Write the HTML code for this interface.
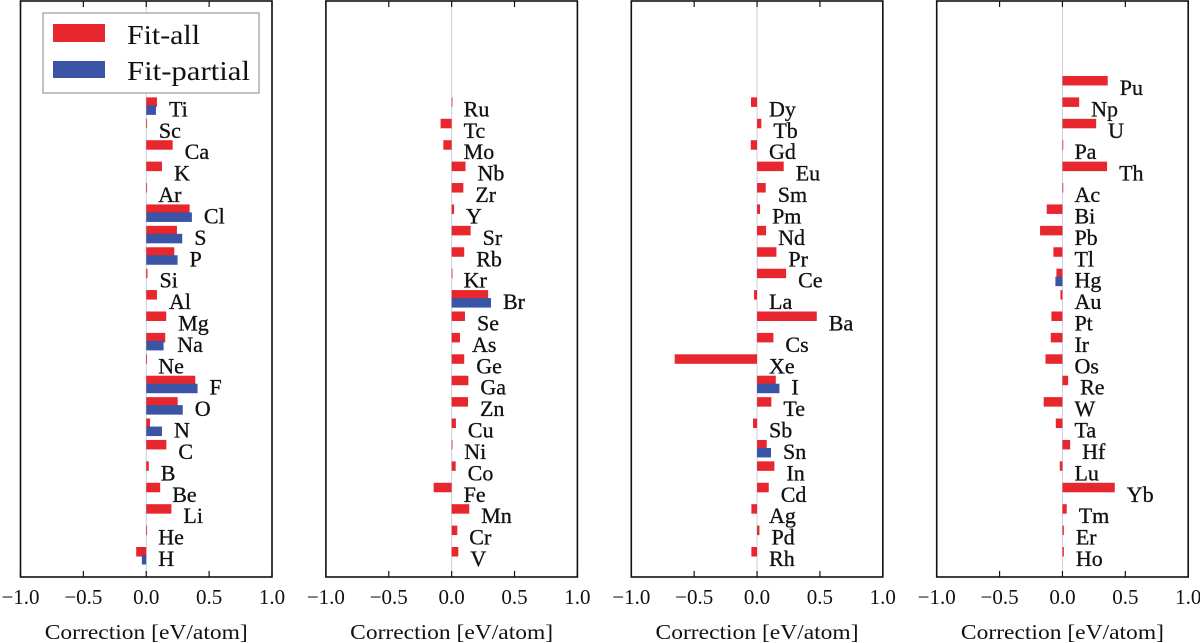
<!DOCTYPE html>
<html><head><meta charset="utf-8"><style>
html,body{margin:0;padding:0;background:#fff}
svg{display:block}
text{font-family:"Liberation Serif",serif;fill:#111}
</style></head><body>
<svg id="chart" width="1200" height="643" viewBox="0 0 1200 643" xmlns="http://www.w3.org/2000/svg"></svg>
<script>
const panel1Labels=["H","He","Li","Be","B","C","N","O","F","Ne","Na","Mg","Al","Si","P","S","Cl","Ar","K","Ca","Sc","Ti"];
const panel1All=[-0.08,0,0.2,0.111,0.02,0.16,0.03,0.25,0.39,0,0.151,0.159,0.085,0.01,0.223,0.244,0.345,0,0.125,0.21,0.005,0.085];
const panel1Partial=[-0.035,null,null,null,null,null,0.125,0.29,0.408,null,0.138,null,null,null,0.249,0.286,0.363,null,null,null,null,0.077];
const panel2Labels=["V","Cr","Mn","Fe","Co","Ni","Cu","Zn","Ga","Ge","As","Se","Br","Kr","Rb","Sr","Y","Zr","Nb","Mo","Tc","Ru"];
const panel2All=[0.053,0.045,0.14,-0.143,0.032,0.005,0.034,0.13,0.133,0.1,0.066,0.106,0.29,0,0.1,0.151,0.019,0.093,0.11,-0.066,-0.088,0];
const panel2Partial=[null,null,null,null,null,null,null,null,null,null,null,null,0.313,null,null,null,null,null,null,null,null,null];
const panel3Labels=["Rh","Pd","Ag","Cd","In","Sn","Sb","Te","I","Xe","Cs","Ba","La","Ce","Pr","Nd","Pm","Sm","Eu","Gd","Tb","Dy"];
const panel3All=[-0.045,0.019,-0.045,0.093,0.138,0.077,-0.032,0.114,0.149,-0.655,0.13,0.475,-0.024,0.231,0.154,0.072,0.024,0.069,0.212,-0.05,0.034,-0.048];
const panel3Partial=[null,null,null,null,null,0.111,null,null,0.178,null,null,null,null,null,null,null,null,null,null,null,null,null];
const panel4Labels=["Ho","Er","Tm","Yb","Lu","Hf","Ta","W","Re","Os","Ir","Pt","Au","Hg","Tl","Pb","Bi","Ac","Th","Pa","U","Np","Pu"];
const panel4All=[0.011,0.011,0.034,0.416,-0.021,0.061,-0.053,-0.149,0.045,-0.135,-0.093,-0.088,-0.016,-0.048,-0.072,-0.178,-0.125,0,0.355,0,0.268,0.133,0.36];
const panel4Partial=[null,null,null,null,null,null,null,null,null,null,null,null,null,-0.056,null,null,null,null,null,null,null,null,null];
const xTicks=[-1.0,-0.5,0.0,0.5,1.0];
const xTickLabels=["\u22121.0","\u22120.5","0.0","0.5","1.0"];

const NS="http://www.w3.org/2000/svg";
const svgEl=document.getElementById('chart');
function mk(tag,attrs,parent){const e=document.createElementNS(NS,tag);for(const k in attrs)e.setAttribute(k,attrs[k]);(parent||svgEl).appendChild(e);return e;}
const RED="#e8262d",BLUE="#3a54a6";
const panelW=251.5,axTop=1,axBottom=577,scale=panelW/2;
function yRow(i){return 555-21.41*i;}
const panels=[[panel1Labels,panel1All,panel1Partial],[panel2Labels,panel2All,panel2Partial],[panel3Labels,panel3All,panel3Partial],[panel4Labels,panel4All,panel4Partial]];
panels.forEach((p,pi)=>{
  const left=20.5+305.4*pi;
  const xs=v=>left+(v+1)*scale;
  const g=mk('g',{});
  
  
  const zl=mk('line',{x1:xs(0),x2:xs(0),y1:axTop,y2:axBottom,stroke:"#c9cfe2","stroke-width":1},g);
  
  
  const labels=p[0],all=p[1],part=p[2];
  labels.forEach((lab,i)=>{
    const c=yRow(i);
    const v=all[i];
    const r=mk('rect',{x:Math.min(xs(0),xs(v)),y:c-8,width:Math.max(0.8,Math.abs(xs(v)-xs(0))),height:9.5,fill:RED},g);
    
    
    let mx=Math.max(0,v);
    if(part[i]!==null){
      const b=part[i];
      const rb=mk('rect',{x:Math.min(xs(0),xs(b)),y:c,width:Math.abs(xs(b)-xs(0)),height:9.5,fill:BLUE},g);
      
      
      mx=Math.max(mx,b);
    }
    const t=mk('text',{x:xs(mx)+12,y:c+11,"font-size":22,stroke:"#111","stroke-width":0.3},g);
    t.textContent=lab;
    
    
  });
  const fr=mk('rect',{x:left,y:axTop,width:panelW,height:axBottom-axTop,fill:"none",stroke:"#111","stroke-width":1.6},g);
  
  
  xTicks.forEach((tv,ti)=>{
    mk('line',{x1:xs(tv),x2:xs(tv),y1:axBottom,y2:axBottom-6,stroke:"#111","stroke-width":1.2},g);
    mk('line',{x1:xs(tv),x2:xs(tv),y1:axTop,y2:axTop+6,stroke:"#111","stroke-width":1.2},g);
    const tl=mk('text',{x:xs(tv),y:604,"font-size":21,"text-anchor":"middle"},g);
    tl.textContent=xTickLabels[ti];
    
    
  });
  const at=mk('text',{x:xs(0),y:639,"font-size":21,"text-anchor":"middle",textLength:203,lengthAdjust:"spacingAndGlyphs"},g);
  at.textContent="Correction [eV/atom]";
  
  
});
const lg=mk('g',{});


mk('rect',{x:43,y:13,width:216,height:80,fill:"#fff",stroke:"#999","stroke-width":1.2},lg);
const l1=mk('rect',{x:53,y:24,width:52,height:18,fill:RED},lg);


const l2=mk('rect',{x:53,y:61,width:52,height:17,fill:BLUE},lg);


const lt1=mk('text',{x:127,y:44,"font-size":27,textLength:73,lengthAdjust:"spacingAndGlyphs"},lg);
lt1.textContent="Fit-all";


const lt2=mk('text',{x:127,y:80,"font-size":27,textLength:123,lengthAdjust:"spacingAndGlyphs"},lg);
lt2.textContent="Fit-partial";


</script>
</body></html>
